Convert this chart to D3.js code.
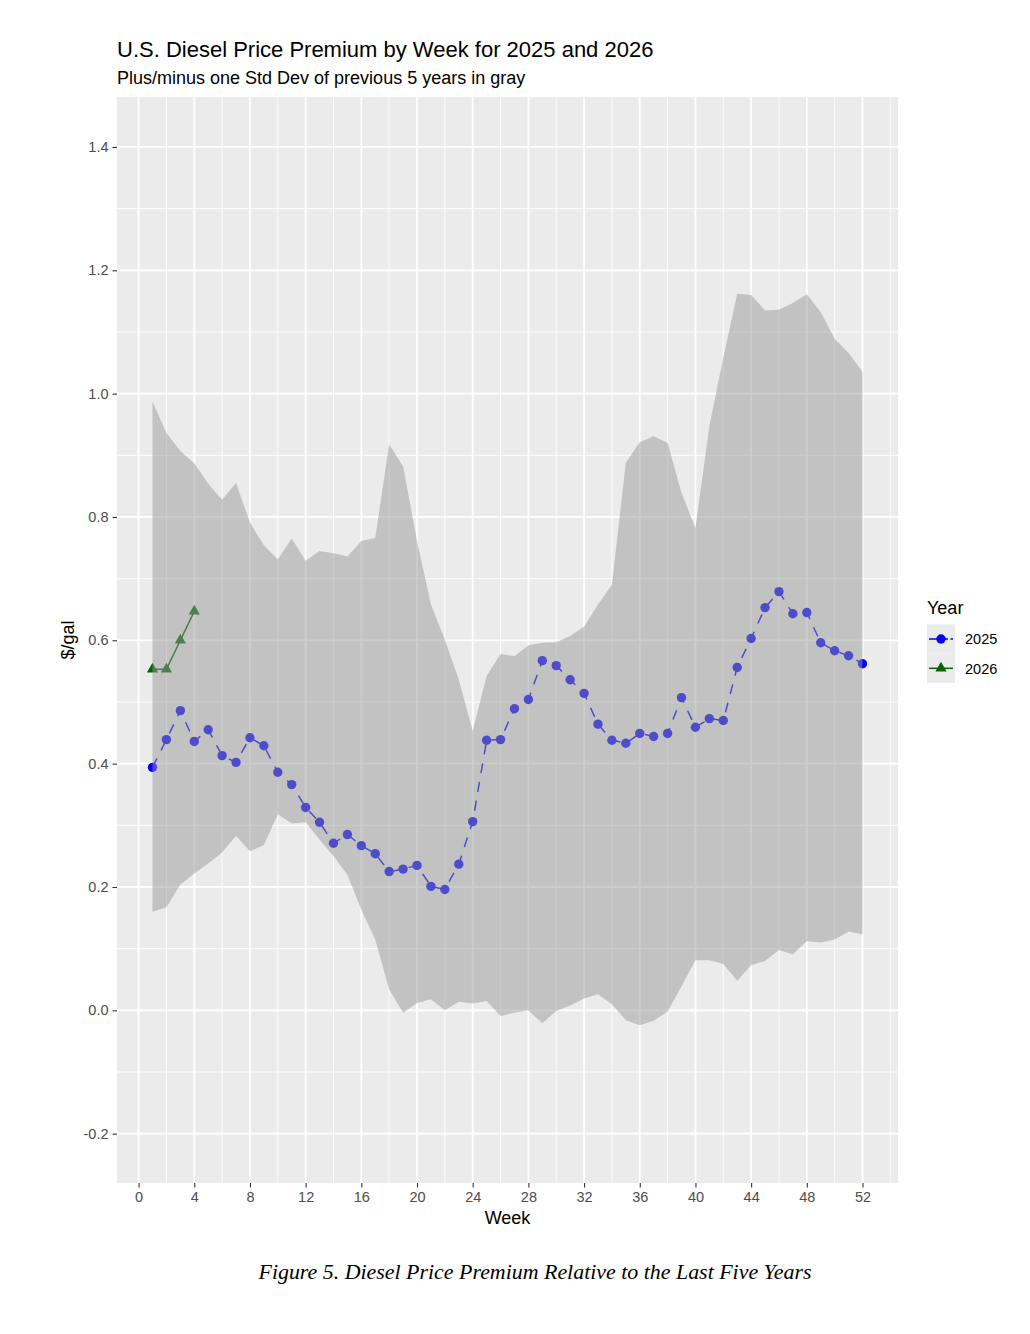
<!DOCTYPE html>
<html>
<head>
<meta charset="utf-8">
<script src="https://cdn.jsdelivr.net/npm/d3@7"></script>
<style>
  body { margin: 0; background: #fff; }
  svg text { font-family: "Liberation Sans", Arial, Helvetica, sans-serif; }
</style>
</head>
<body>
<svg id="chart"></svg>
<script>
// weeks 1..52
const weeks = d3.range(1, 53);

// 2025 premium ($/gal)
const premium2025 = [
  0.394, 0.439, 0.486, 0.436, 0.455, 0.413, 0.402, 0.442, 0.429, 0.386,
  0.366, 0.329, 0.305, 0.271, 0.285, 0.267, 0.254, 0.225, 0.229, 0.235,
  0.201, 0.196, 0.237, 0.306, 0.438, 0.439, 0.489, 0.504, 0.567, 0.559,
  0.536, 0.514, 0.464, 0.438, 0.433, 0.449, 0.444, 0.449, 0.507, 0.459,
  0.473, 0.470, 0.556, 0.603, 0.653, 0.679, 0.643, 0.645, 0.596, 0.583,
  0.575, 0.562
];

// 2026 premium, first weeks only
const weeks2026 = [1, 2, 3, 4];
const premium2026 = [0.553, 0.553, 0.600, 0.647];

// +/- one std dev band of the previous five years
const bandUpper = [
  0.987, 0.936, 0.907, 0.887, 0.854, 0.828, 0.855, 0.791, 0.754, 0.731,
  0.765, 0.729, 0.745, 0.741, 0.736, 0.761, 0.766, 0.918, 0.882, 0.761,
  0.658, 0.601, 0.536, 0.453, 0.542, 0.578, 0.574, 0.592, 0.596, 0.597,
  0.607, 0.622, 0.658, 0.690, 0.888, 0.921, 0.931, 0.920, 0.839, 0.782,
  0.947, 1.058, 1.162, 1.160, 1.135, 1.136, 1.147, 1.161, 1.132, 1.089,
  1.066, 1.035
];
const bandLower = [
  0.160, 0.167, 0.204, 0.222, 0.238, 0.256, 0.283, 0.258, 0.268, 0.318,
  0.303, 0.305, 0.277, 0.250, 0.220, 0.163, 0.115, 0.034, -0.004, 0.012,
  0.018, 0.000, 0.014, 0.011, 0.015, -0.009, -0.004, 0.000, -0.021, -0.001,
  0.008, 0.019, 0.026, 0.010, -0.016, -0.024, -0.017, -0.002, 0.039, 0.081,
  0.081, 0.075, 0.048, 0.073, 0.080, 0.098, 0.091, 0.112, 0.110, 0.115,
  0.128, 0.123
];

const xTicks = d3.range(0, 53, 4);
const xMinor = d3.range(2, 55, 4);
const yTicks = [-0.2, 0, 0.2, 0.4, 0.6, 0.8, 1.0, 1.2, 1.4];
const yMinor = [-0.1, 0.1, 0.3, 0.5, 0.7, 0.9, 1.1, 1.3];

const years = ["2025", "2026"];
const yearColors = ["#0000ff", "#006400"];

class PremiumChart {
  constructor(_config) {
    this.config = {
      parentElement: _config.parentElement,
      containerWidth: _config.containerWidth || 1030,
      containerHeight: _config.containerHeight || 1334,
      margin: _config.margin || { top: 97, right: 132, bottom: 151, left: 117 },
    };
    this.initVis();
  }

  initVis() {
    let vis = this;
    vis.width = vis.config.containerWidth - vis.config.margin.left - vis.config.margin.right;
    vis.height = vis.config.containerHeight - vis.config.margin.top - vis.config.margin.bottom;

    vis.svg = d3.select(vis.config.parentElement)
      .attr("width", vis.config.containerWidth)
      .attr("height", vis.config.containerHeight);

    vis.chart = vis.svg.append("g")
      .attr("transform", `translate(${vis.config.margin.left},${vis.config.margin.top})`);

    // ggplot-style expanded domains
    vis.xScale = d3.scaleLinear().domain([-1.55, 54.55]).range([0, vis.width]);
    vis.yScale = d3.scaleLinear().domain([-0.28, 1.481]).range([vis.height, 0]);

    vis.renderVis();
  }

  renderVis() {
    let vis = this;
    const x = vis.xScale, y = vis.yScale;

    vis.chart.append("rect")
      .attr("width", vis.width)
      .attr("height", vis.height)
      .attr("fill", "#ebebeb");

    // minor grid
    vis.chart.selectAll(".xminor").data(xMinor).join("line")
      .attr("x1", d => x(d)).attr("x2", d => x(d))
      .attr("y1", 0).attr("y2", vis.height)
      .attr("stroke", "#fff").attr("stroke-width", 0.9);
    vis.chart.selectAll(".yminor").data(yMinor).join("line")
      .attr("y1", d => y(d)).attr("y2", d => y(d))
      .attr("x1", 0).attr("x2", vis.width)
      .attr("stroke", "#fff").attr("stroke-width", 0.9);
    // major grid
    vis.chart.selectAll(".xmajor").data(xTicks).join("line")
      .attr("x1", d => x(d)).attr("x2", d => x(d))
      .attr("y1", 0).attr("y2", vis.height)
      .attr("stroke", "#fff").attr("stroke-width", 1.8);
    vis.chart.selectAll(".ymajor").data(yTicks).join("line")
      .attr("y1", d => y(d)).attr("y2", d => y(d))
      .attr("x1", 0).attr("x2", vis.width)
      .attr("stroke", "#fff").attr("stroke-width", 1.8);

    // 2025 dashed line + points
    const line = d3.line().x(d => x(d[0])).y(d => y(d[1]));
    const pts2025 = weeks.map((w, i) => [w, premium2025[i]]);
    const pts2026 = weeks2026.map((w, i) => [w, premium2026[i]]);

    vis.chart.append("path")
      .datum(pts2025)
      .attr("d", line)
      .attr("fill", "none")
      .attr("stroke", yearColors[0])
      .attr("stroke-width", 1.5)
      .attr("stroke-dasharray", "10,9");
    vis.chart.selectAll(".pt25").data(pts2025).join("circle")
      .attr("cx", d => x(d[0])).attr("cy", d => y(d[1]))
      .attr("r", 4.7)
      .attr("fill", yearColors[0]);

    vis.chart.append("path")
      .datum(pts2026)
      .attr("d", line)
      .attr("fill", "none")
      .attr("stroke", yearColors[1])
      .attr("stroke-width", 1.5);
    const tri = d3.symbol().type(d3.symbolTriangle).size(55);
    vis.chart.selectAll(".pt26").data(pts2026).join("path")
      .attr("d", tri)
      .attr("transform", d => `translate(${x(d[0])},${y(d[1])})`)
      .attr("fill", yearColors[1]);

    // std dev band drawn on top
    const area = d3.area()
      .x((d, i) => x(weeks[i]))
      .y0((d, i) => y(bandLower[i]))
      .y1(d => y(d));
    vis.chart.append("path")
      .datum(bandUpper)
      .attr("d", area)
      .attr("fill", "#9a9a9a")
      .attr("fill-opacity", 0.5);

    // axes
    const xAxis = d3.axisBottom(x).tickValues(xTicks).tickSize(4.5).tickPadding(4);
    const yAxis = d3.axisLeft(y).tickValues(yTicks).tickSize(4.5).tickPadding(3)
      .tickFormat(d => d.toFixed(1));

    const xAxisG = vis.chart.append("g")
      .attr("transform", `translate(0,${vis.height})`)
      .call(xAxis);
    const yAxisG = vis.chart.append("g").call(yAxis);
    [xAxisG, yAxisG].forEach(g => {
      g.select(".domain").remove();
      g.selectAll(".tick line").attr("stroke", "#333").attr("stroke-width", 1.1);
      g.selectAll(".tick text")
        .attr("fill", "#4d4d4d")
        .style("font-size", "14.5px");
    });
    yAxisG.selectAll(".tick text").attr("x", -8.5);

    // axis titles
    vis.chart.append("text")
      .attr("x", vis.width / 2)
      .attr("y", vis.height + 41)
      .attr("text-anchor", "middle")
      .style("font-size", "18px")
      .text("Week");
    vis.svg.append("text")
      .attr("transform", `translate(74,${vis.config.margin.top + vis.height / 2}) rotate(-90)`)
      .attr("text-anchor", "middle")
      .style("font-size", "18px")
      .text("$/gal");

    // title + subtitle
    vis.svg.append("text")
      .attr("x", 117).attr("y", 57)
      .style("font-size", "22px")
      .text("U.S. Diesel Price Premium by Week for 2025 and 2026");
    vis.svg.append("text")
      .attr("x", 117).attr("y", 84)
      .style("font-size", "18px")
      .text("Plus/minus one Std Dev of previous 5 years in gray");

    // legend
    const legend = vis.svg.append("g").attr("transform", "translate(927,0)");
    legend.append("text")
      .attr("x", 0).attr("y", 614)
      .style("font-size", "18px")
      .text("Year");
    const keyH = 29.3;
    years.forEach((yr, i) => {
      const cy = 639 + i * keyH;
      legend.append("rect")
        .attr("x", 0).attr("y", cy - keyH / 2)
        .attr("width", 28).attr("height", keyH)
        .attr("fill", "#ebebeb");
      legend.append("line")
        .attr("x1", 2).attr("x2", 26)
        .attr("y1", cy).attr("y2", cy)
        .attr("stroke", yearColors[i])
        .attr("stroke-width", 1.5)
        .attr("stroke-dasharray", i === 0 ? "19,2.5" : null);
      if (i === 0) {
        legend.append("circle").attr("cx", 14).attr("cy", cy).attr("r", 4.7).attr("fill", yearColors[i]);
      } else {
        legend.append("path").attr("d", tri).attr("transform", `translate(14,${cy})`).attr("fill", yearColors[i]);
      }
      legend.append("text")
        .attr("x", 38).attr("y", cy)
        .attr("dy", "0.36em")
        .style("font-size", "14.5px")
        .text(yr);
    });

    // figure caption
    vis.svg.append("text")
      .attr("x", 535).attr("y", 1279)
      .attr("text-anchor", "middle")
      .attr("textLength", 553)
      .attr("lengthAdjust", "spacingAndGlyphs")
      .style("font-family", "'Liberation Serif', 'DejaVu Serif', serif")
      .style("font-style", "italic")
      .style("font-size", "21px")
      .text("Figure 5. Diesel Price Premium Relative to the Last Five Years");
  }
}

new PremiumChart({ parentElement: "#chart" });
</script>
</body>
</html>
